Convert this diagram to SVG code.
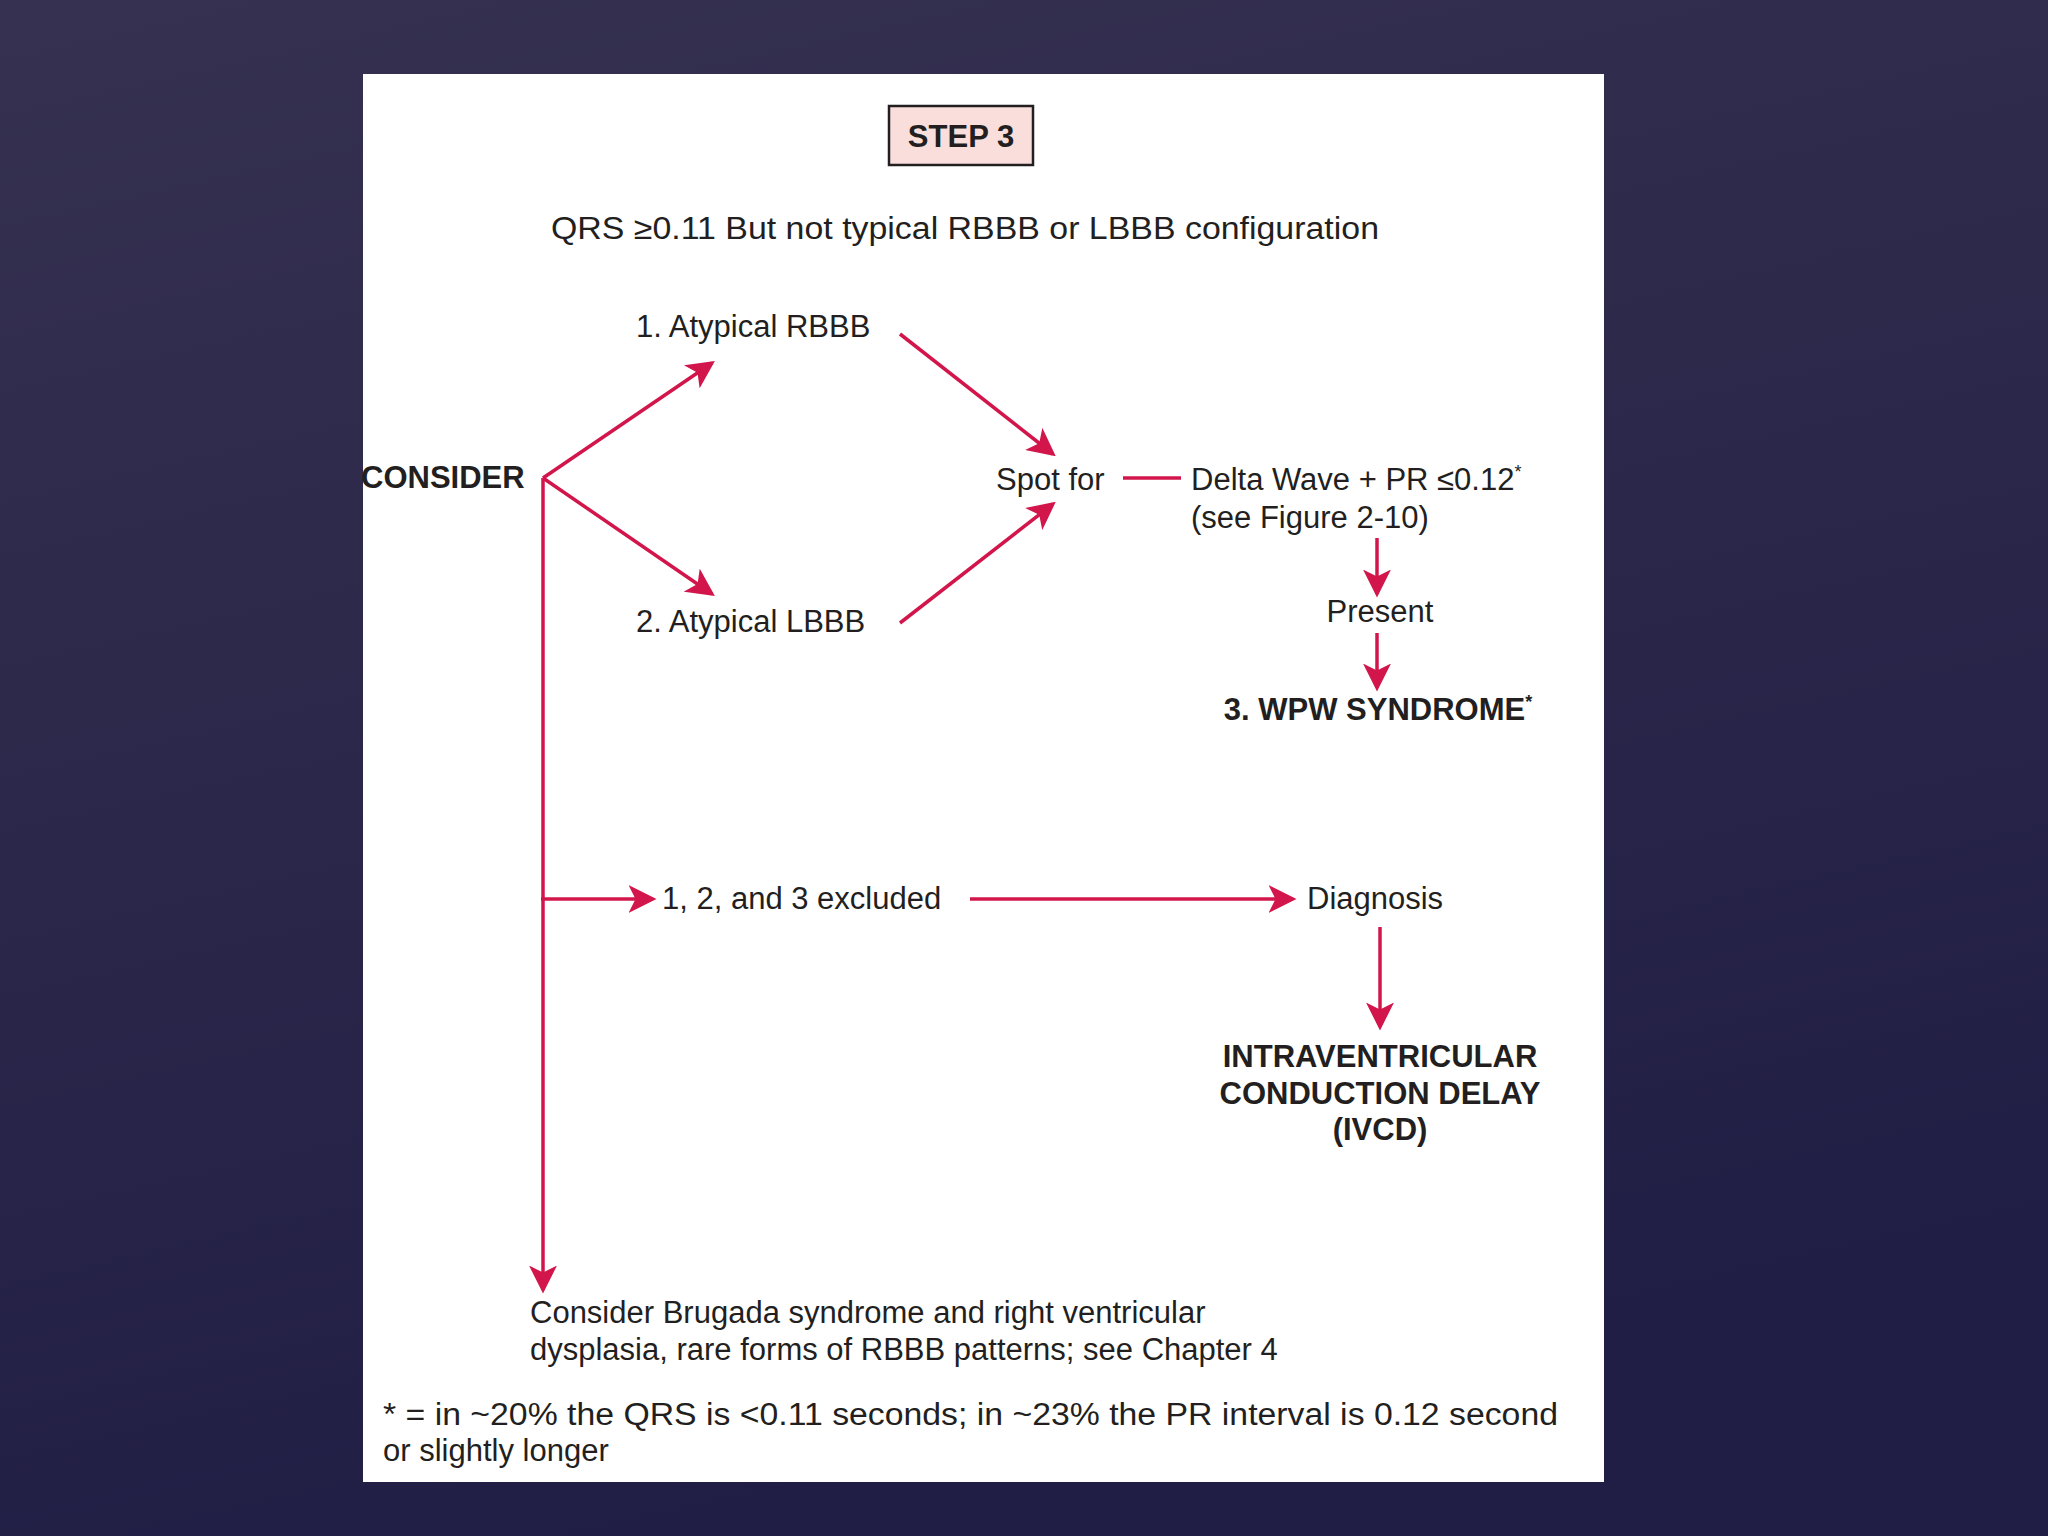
<svg xmlns="http://www.w3.org/2000/svg" width="2048" height="1536" viewBox="0 0 2048 1536">
<defs>
<linearGradient id="bg" x1="0" y1="0" x2="0.3" y2="1"><stop offset="0" stop-color="#363150"/><stop offset="1" stop-color="#211e45"/></linearGradient>
<marker id="ah" markerWidth="8" markerHeight="8" refX="7" refY="4" orient="auto" markerUnits="strokeWidth"><path d="M0,0 L8,4 L0,8 L2,4 Z" fill="#d2164b"/></marker>
</defs>
<style>
text{font-family:"Liberation Sans",Arial,sans-serif;fill:#231f20;font-size:31px}
.b{font-weight:bold}
.c{stroke:#d2164b;stroke-width:3.5;fill:none}
.a{marker-end:url(#ah)}
</style>
<rect width="2048" height="1536" fill="url(#bg)"/>
<rect x="363" y="74" width="1241" height="1408" fill="#fff"/>
<g id="step3"><rect x="889" y="106" width="144" height="59" fill="#f9dedb" stroke="#231f20" stroke-width="2.5"/><text class="b" x="961" y="147" text-anchor="middle" font-size="30">STEP 3</text></g>
<g id="title"><text x="965" y="239" text-anchor="middle" textLength="828" lengthAdjust="spacingAndGlyphs">QRS ≥0.11 But not typical RBBB or LBBB configuration</text></g>
<g id="consider"><text class="b" x="361" y="488" font-size="32">CONSIDER</text></g>
<g id="rbbb"><text x="636" y="337">1. Atypical RBBB</text></g>
<g id="lbbb"><text x="636" y="632">2. Atypical LBBB</text></g>
<g id="spot"><text x="996" y="490">Spot for</text></g>
<g id="delta"><text x="1191" y="490">Delta Wave + PR ≤0.12<tspan font-size="18" dy="-12">*</tspan></text><text x="1191" y="528">(see Figure 2-10)</text></g>
<g id="present"><text x="1380" y="622" text-anchor="middle">Present</text></g>
<g id="wpw"><text class="b" x="1378" y="720" text-anchor="middle">3. WPW SYNDROME<tspan font-size="18" dy="-12">*</tspan></text></g>
<g id="excluded"><text x="662" y="909">1, 2, and 3 excluded</text></g>
<g id="diagnosis"><text x="1307" y="909">Diagnosis</text></g>
<g id="ivcd"><text class="b" x="1380" y="1067" text-anchor="middle">INTRAVENTRICULAR</text><text class="b" x="1380" y="1104" text-anchor="middle">CONDUCTION DELAY</text><text class="b" x="1380" y="1140" text-anchor="middle">(IVCD)</text></g>
<g id="brugada"><text x="530" y="1323">Consider Brugada syndrome and right ventricular</text><text x="530" y="1360">dysplasia, rare forms of RBBB patterns; see Chapter 4</text></g>
<g id="footnote"><text x="383" y="1425" textLength="1175" lengthAdjust="spacingAndGlyphs">* = in ~20% the QRS is &lt;0.11 seconds; in ~23% the PR interval is 0.12 second</text><text x="383" y="1461">or slightly longer</text></g>
<g id="connectors">
<path class="c a" d="M543,478 L712,363"/>
<path class="c a" d="M543,478 L712,594"/>
<path class="c a" d="M900,334 L1053,454"/>
<path class="c a" d="M900,623 L1053,504"/>
<path class="c" d="M1123,478 L1181,478" stroke-width="5"/>
<path class="c a" d="M1377,538 L1377,594"/>
<path class="c a" d="M1377,633 L1377,688"/>
<path class="c a" d="M543,478 L543,1290"/>
<path class="c a" d="M541,899 L653,899"/>
<path class="c a" d="M970,899 L1293,899"/>
<path class="c a" d="M1380,927 L1380,1027"/>
</g>
</svg>
